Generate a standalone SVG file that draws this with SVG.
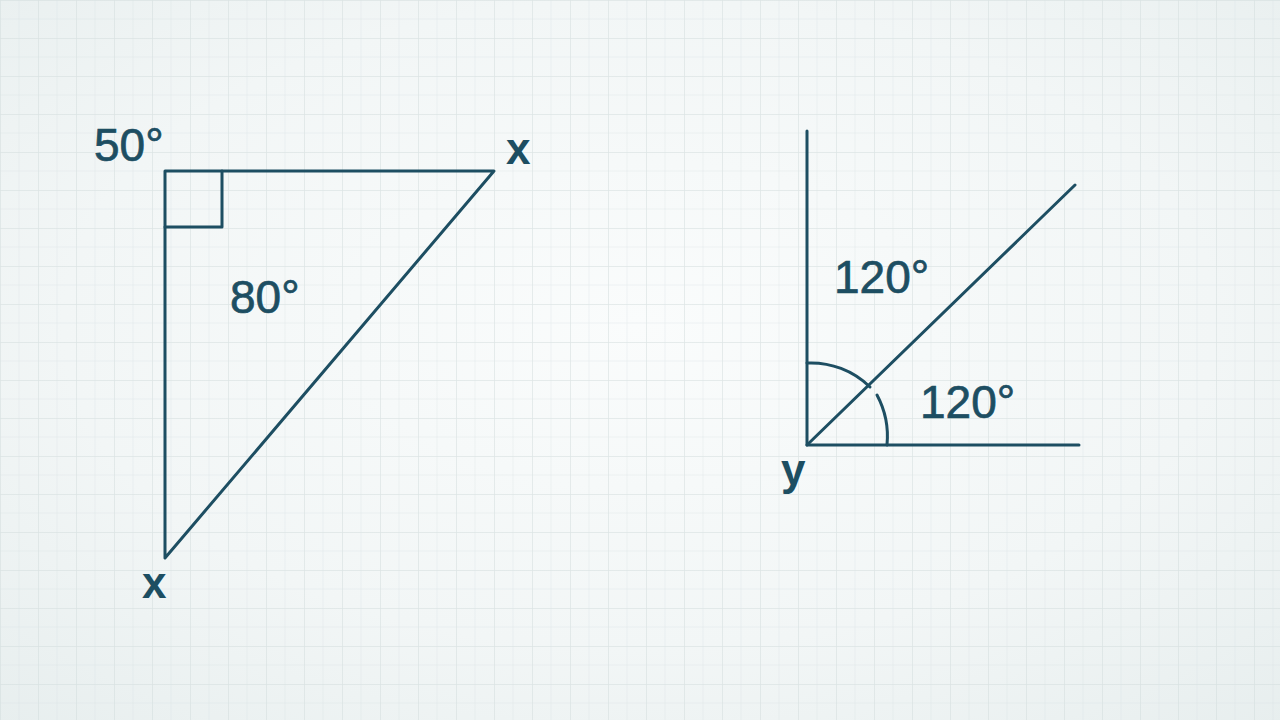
<svg xmlns="http://www.w3.org/2000/svg" width="1280" height="720" viewBox="0 0 1280 720">
  <defs>
    <radialGradient id="bg" cx="0.5" cy="0.45" r="0.75">
      <stop offset="0" stop-color="#fafcfc"/>
      <stop offset="0.6" stop-color="#f2f6f6"/>
      <stop offset="1" stop-color="#e7eeee"/>
    </radialGradient>
    <pattern id="grid" width="38" height="38" patternUnits="userSpaceOnUse">
      <path d="M 19 0 V 38 M 0 19 H 38" stroke="#d6dfe0" stroke-width="1" fill="none" opacity="0.45"/>
      <path d="M 0 0.5 H 38 M 0.5 0 V 38" stroke="#d0dadb" stroke-width="1" fill="none" opacity="0.75"/>
    </pattern>
    <style>
      .ln { stroke: #1d4e62; stroke-width: 3; fill: none; stroke-linecap: round; stroke-linejoin: round; }
      .lbl { font-family: "Liberation Sans", Arial, sans-serif; font-size: 46px; fill: #1d4e62; stroke: #1d4e62; stroke-width: 0.7; }
      .var { font-family: "Liberation Sans", Arial, sans-serif; font-size: 44px; font-weight: bold; fill: #1d4e62; }
    </style>
  </defs>
  <rect width="1280" height="720" fill="url(#bg)"/>
  <rect width="1280" height="720" fill="url(#grid)" opacity="0.65"/>

  <g id="triangle">
    <path class="ln" d="M 165 171 L 494 171 L 165 558 Z"/>
    <path class="ln" d="M 165 227 H 222 V 171"/>
    <text class="lbl" x="94" y="161">50°</text>
    <text class="lbl" x="230" y="313">80°</text>
    <text class="var" x="506" y="164">x</text>
    <text class="var" x="142" y="598" font-size="42">x</text>
  </g>

  <g id="angles">
    <path class="ln" d="M 807 131 V 445 H 1079"/>
    <path class="ln" d="M 807 445 L 1075 185"/>
    <path class="ln" d="M 807 363 A 84 84 0 0 1 870 387"/>
    <path class="ln" d="M 877 395 A 88 88 0 0 1 887 445"/>
    <text class="lbl" x="834" y="293">120°</text>
    <text class="lbl" x="920" y="418">120°</text>
    <text class="var" x="781" y="485" font-size="42">y</text>
  </g>
</svg>
